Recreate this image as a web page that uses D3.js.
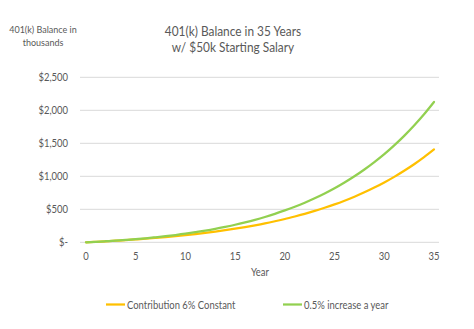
<!DOCTYPE html>
<html><head><meta charset="utf-8">
<script src="https://cdn.jsdelivr.net/npm/d3@7"></script>
<style>
body{margin:0;background:#fff;}
svg{display:block;}
text{font-family:Lato,"Open Sans",sans-serif;fill:#595959;}
</style></head>
<body>
<svg id="chart" width="474" height="329"></svg>
<script>
const years = d3.range(0, 36);
const constantContrib = [0,7,15,24,33,43,54,66,79,93,108,125,143,162,183,206,231,258,287,319,353,391,431,475,523,574,630,691,757,829,907,991,1083,1182,1290,1407];
const increasingContrib = [0,7,16,25,36,48,61,76,92,110,130,153,177,204,234,266,302,341,384,431,483,539,600,667,740,819,906,1000,1103,1215,1336,1469,1613,1770,1940,2126];
const yTicks = [0,500,1000,1500,2000,2500];
const xTicks = [0,5,10,15,20,25,30,35];
const seriesNames = ["Contribution 6% Constant","0.5% increase a year"];
const colors = ["#FFC000","#92D050"];

const svg = d3.select("#chart");
const x = d3.scaleLinear().domain([0,35]).range([86,434]);
const y = d3.scaleLinear().domain([0,2500]).range([242.3,77.3]);
const gridL = 80, gridR = 439;
const SX = 0.86; // horizontal condensing to mimic Calibri proportions

function label(parent, px, py, size, anchor, content, sx){
  return parent.append("text")
    .attr("transform", `translate(${px},${py}) scale(${sx||SX},1)`)
    .attr("text-anchor", anchor).attr("font-size", size).text(content);
}

// gridlines
svg.append("g").selectAll("line").data(yTicks).join("line")
  .attr("x1",gridL).attr("x2",gridR)
  .attr("y1",d=>y(d)).attr("y2",d=>y(d))
  .attr("stroke","#d9d9d9").attr("stroke-width",1);

// y labels
const fmt = d => d===0 ? "$-" : "$" + d3.format(",")(d);
const gy = svg.append("g");
yTicks.forEach(d => label(gy, 68, y(d)+4, 11, "end", fmt(d)));

// x labels
const gx = svg.append("g");
xTicks.forEach(d => label(gx, x(d), 260, 11, "middle", d));

// axis title
label(svg, 260, 276, 11, "middle", "Year");

// y axis title
label(svg, 43, 33, 10, "middle", "401(k) Balance in", 0.9);
label(svg, 43, 46, 10, "middle", "thousands", 0.9);

// chart title
label(svg, 233, 35.8, 13.2, "middle", "401(k) Balance in 35 Years", 0.9);
label(svg, 233, 52, 13.2, "middle", "w/ $50k Starting Salary", 0.9);

// lines
const line = d3.line().x((d,i)=>x(years[i])).y(d=>y(d)).curve(d3.curveMonotoneX);
[constantContrib, increasingContrib].forEach((s,i)=>{
  svg.append("path").datum(s).attr("d",line)
    .attr("fill","none").attr("stroke",colors[i]).attr("stroke-width",2.25)
    .attr("stroke-linejoin","round").attr("stroke-linecap","round");
});

// legend
const legendX = [106, 283];
seriesNames.forEach((n,i)=>{
  svg.append("line").attr("x1",legendX[i]).attr("x2",legendX[i]+19)
    .attr("y1",304.5).attr("y2",304.5).attr("stroke",colors[i]).attr("stroke-width",2.25);
  label(svg, legendX[i]+21, 308.5, 11, "start", n);
});
</script>
</body></html>
